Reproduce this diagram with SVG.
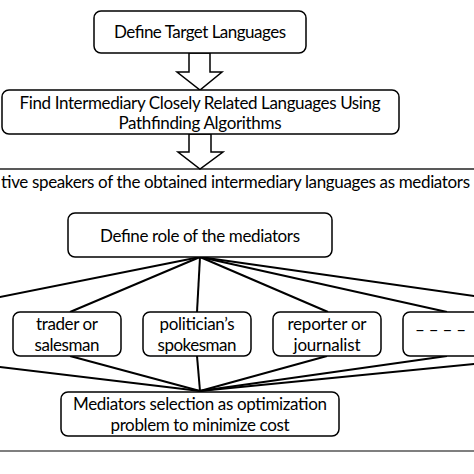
<svg xmlns="http://www.w3.org/2000/svg" width="474" height="474" viewBox="0 0 474 474">
<style>
.box{fill:#fff;stroke:#000;stroke-width:1.5}
.arr{fill:#fff;stroke:#000;stroke-width:1.5;stroke-linejoin:miter}
.t{font-family:Lato,"Liberation Sans",sans-serif;font-size:17px;fill:#000;text-anchor:middle}
.c{stroke:#000;stroke-width:2;fill:none}
</style>
<rect width="474" height="474" fill="#fff"/>
<g id="container">
<line x1="0" y1="169" x2="474" y2="169" stroke="#222" stroke-width="1.5"/>
<line x1="0" y1="451" x2="474" y2="451" stroke="#555" stroke-width="1.5"/>
<text class="t" x="470" y="188" style="text-anchor:end" textLength="469">tive speakers of the obtained intermediary languages as mediators</text>
</g>
<g id="connectors">
<polygon class="arr" points="189,53 210,53 210,72 222,72 200,90 177,72 189,72"/>
<polygon class="arr" points="189,134 211,134 211,152 223,152 200,169 178,152 189,152"/>
<line class="c" x1="200" y1="257" x2="-75" y2="312"/>
<line class="c" x1="200" y1="257" x2="70" y2="312"/>
<line class="c" x1="200" y1="257" x2="197" y2="312"/>
<line class="c" x1="200" y1="257" x2="328" y2="312"/>
<line class="c" x1="200" y1="257" x2="447" y2="312"/>
<line class="c" x1="200" y1="257" x2="587" y2="312"/>
<line class="c" x1="-92" y1="356" x2="200" y2="391"/>
<line class="c" x1="70" y1="356" x2="200" y2="391"/>
<line class="c" x1="197" y1="356" x2="200" y2="391"/>
<line class="c" x1="327" y1="356" x2="200" y2="391"/>
<line class="c" x1="447" y1="356" x2="200" y2="391"/>
<line class="c" x1="555" y1="356" x2="200" y2="391"/>
</g>
<g id="n1">
<rect class="box" x="94" y="11" width="212" height="42" rx="7"/>
<text class="t" x="200" y="38" textLength="172">Define Target Languages</text>
</g>
<g id="n2">
<rect class="box" x="2" y="90" width="397" height="44" rx="7"/>
<text class="t" x="200" y="109" textLength="361">Find Intermediary Closely Related Languages Using</text>
<text class="t" x="200" y="129" textLength="163">Pathfinding Algorithms</text>
</g>
<g id="n3">
<rect class="box" x="68" y="213" width="264" height="44" rx="7"/>
<text class="t" x="200" y="242" textLength="200">Define role of the mediators</text>
</g>
<g id="n4">
<rect class="box" x="13" y="312" width="108" height="44" rx="7"/>
<text class="t" x="67" y="330" textLength="62">trader or</text>
<text class="t" x="67" y="351" textLength="65">salesman</text>
</g>
<g id="n5">
<rect class="box" x="143" y="312" width="108" height="44" rx="7"/>
<text class="t" x="197" y="330" textLength="75">politician’s</text>
<text class="t" x="197" y="351" textLength="79">spokesman</text>
</g>
<g id="n6">
<rect class="box" x="273" y="312" width="108" height="44" rx="7"/>
<text class="t" x="327" y="330" textLength="79">reporter or</text>
<text class="t" x="327" y="351" textLength="67">journalist</text>
</g>
<g id="n7">
<rect class="box" x="403" y="312" width="108" height="44" rx="7"/>
<text class="t" x="415" y="336" style="text-anchor:start" textLength="51" lengthAdjust="spacing">––––</text>
</g>
<g id="n8">
<rect class="box" x="61" y="392" width="278" height="44" rx="7"/>
<text class="t" x="200" y="410" textLength="254">Mediators selection as optimization</text>
<text class="t" x="200" y="431" textLength="179">problem to minimize cost</text>
</g>
</svg>
